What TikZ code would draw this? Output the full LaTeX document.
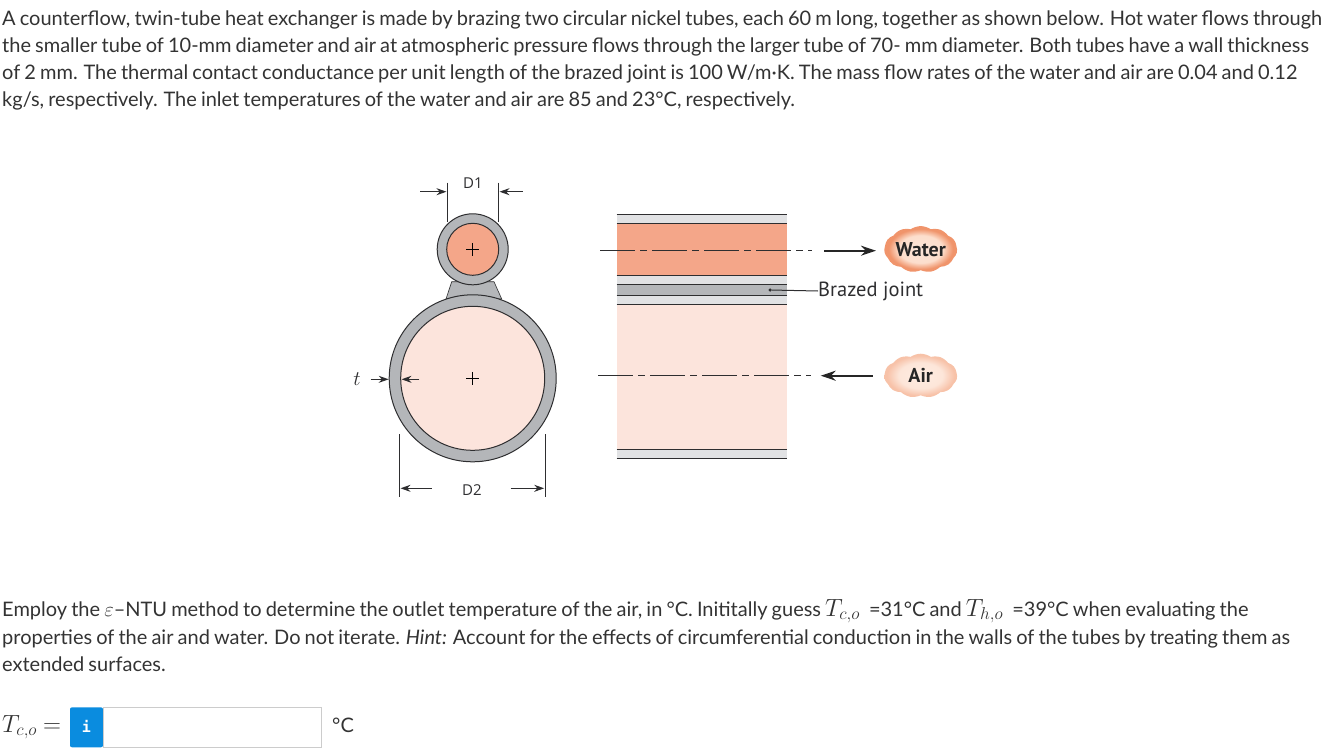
\documentclass[tikz,border=0pt]{standalone}
\usepackage{fontspec}
\setmainfont[WordSpace=0.8]{Lato}
\newfontfamily\labelfont{Open Sans}
\newfontfamily\calloutfont{PT Sans}
\newfontfamily\iconfont{DejaVu Sans Mono}
\usetikzlibrary{arrows.meta,shapes.symbols}
\definecolor{wallgray}{HTML}{B4B6B9}
\definecolor{walllight}{HTML}{E1E2E4}
\definecolor{waterfill}{HTML}{F4A689}
\definecolor{airfill}{HTML}{FCE4DC}
\definecolor{inkline}{HTML}{2E2E30}
\definecolor{infoblue}{HTML}{0A8CDF}
\definecolor{boxline}{HTML}{CCCCCC}
\newcommand{\mathbig}[1]{{\fontsize{24}{24}\selectfont$#1$}}
\pgfdeclareradialshading{waterglow}{\pgfpoint{0bp}{0bp}}{rgb(0bp)=(.99,.90,.85);rgb(15bp)=(.99,.87,.80);rgb(22bp)=(.94,.58,.42);rgb(50bp)=(.94,.58,.42)}
\pgfdeclareradialshading{airglow}{\pgfpoint{0bp}{0bp}}{rgb(0bp)=(1,.93,.89);rgb(15bp)=(.99,.90,.85);rgb(23bp)=(.97,.76,.66);rgb(50bp)=(.97,.76,.66)}
\tikzset{
  para/.style={anchor=base west,inner sep=0pt,text=black!80,font=\fontsize{20}{24}\selectfont},
  tube/.style={circle,draw=inkline,line width=1pt,inner sep=0pt,outer sep=0pt},
  dimline/.style={inkline,line width=1.1pt},
  dimarrow/.style={inkline,line width=1.1pt,-{Stealth[length=10pt,width=7pt]}},
  flowarrow/.style={black!85,line width=2pt,-{Stealth[length=15pt,width=10pt]}},
  centerline/.style={inkline,line width=0.9pt,dash pattern=on 35pt off 5pt on 7pt off 5pt},
  dimlabel/.style={inner sep=0pt,text=inkline,font=\labelfont\fontsize{15}{16}\selectfont},
  fluid/.style={cloud,cloud puffs=11,cloud puff arc=70,aspect=1.7,minimum width=73pt,minimum height=44pt,inner sep=0pt,outer sep=0pt,text=black!85,font=\calloutfont\bfseries\fontsize{20}{20}\selectfont},
}
\begin{document}
\begin{tikzpicture}[x=1pt,y=-1pt]
\useasboundingbox (0,0) rectangle (1336,755);
\node[para] (L1) at (2,25) {A counterflow, twin-tube heat exchanger is made by brazing two circular nickel tubes, each 60 m long, together as shown below. Hot water flows through};
\node[para] (L2) at (2,52) {the smaller tube of 10-mm diameter and air at atmospheric pressure flows through the larger tube of 70- mm diameter. Both tubes have a wall thickness};
\node[para] (L3) at (2,79) {of 2 mm. The thermal contact conductance per unit length of the brazed joint is 100 W/m·K. The mass flow rates of the water and air are 0.04 and 0.12};
\node[para] (L4) at (2,106) {kg/s, respectively. The inlet temperatures of the water and air are 85 and 23°C, respectively.};
\node[para] (L5) at (2,616) {Employ the $\varepsilon$–NTU method to determine the outlet temperature of the air, in °C. Inititally guess \mathbig{T_{c,o}}\hspace{5pt} =31°C and \mathbig{T_{h,o}}\hspace{5pt} =39°C when evaluating the};
\node[para] (L6) at (2,644) {properties of the air and water. Do not iterate. \emph{Hint:} Account for the effects of circumferential conduction in the walls of the tubes by treating them as};
\node[para] (L7) at (2,671) {extended surfaces.};

\fill[wallgray,draw=inkline,line width=0.6pt] (451.7,281.7) -- (446,299) -- (501.7,299) -- (494,281.7) -- cycle;
\node[tube,fill=wallgray,minimum size=71pt] (smallO) at (472.7,249.3) {};
\node[tube,fill=waterfill,minimum size=52pt] (smallI) at (472.7,249.3) {};
\node[tube,fill=wallgray,minimum size=167pt] (largeO) at (472.7,378.3) {};
\node[tube,fill=airfill,minimum size=144pt] (largeI) at (472.7,378.3) {};
\foreach \c in {smallI,largeI} {
  \draw[black,line width=0.8pt] (\c.center) +(-6.5,0) -- +(6.5,0) +(0,-6.5) -- +(0,6.5);
}

\foreach \n/\x/\y in {a1/447.3/182.7,a2/447.3/221.7,b1/498.7/182.7,b2/498.7/221.7,c1/399.7/434,c2/399.7/497.3,d1/545.4/434,d2/545.4/497.3} {
  \coordinate (\n) at (\x,\y);
}
\draw[dimline] (a1) -- (a2);
\draw[dimline] (b1) -- (b2);
\draw[dimline] (c1) -- (c2);
\draw[dimline] (d1) -- (d2);
\foreach \n/\x/\y/\u/\v in {e/420/191.7/446.5/191.7,f/522.7/191.7/499.5/191.7,g/431.7/488.3/400.5/488.3,h/510.7/488.3/544.2/488.3,i/370.7/379.3/388.7/379.3,j/419.3/379.3/401.5/379.3} {
  \coordinate (\n1) at (\x,\y);
  \coordinate (\n2) at (\u,\v);
  \draw[dimarrow] (\n1) -- (\n2);
}
\node[dimlabel] (D1) at (473,183.5) {D1};
\node[dimlabel] (D2) at (472,490) {D2};
\node[inner sep=0pt,text=inkline,font=\fontsize{20}{20}\selectfont] (T) at (357,379) {$t$};

\foreach \a/\b/\c in {214.7/223.3/walllight,223.3/275.7/waterfill,275.7/284.3/walllight,284.3/295.7/wallgray,295.7/304.3/walllight,304.3/449.3/airfill,449.3/458/walllight} {
  \fill[\c] (616.7,\a) rectangle (786.7,\b);
}
\foreach \y in {214.7,223.3,275.7,284.3,295.7,304.3,449.3,458} {
  \draw[inkline,line width=1pt] (616.7,\y) -- (786.7,\y);
}

\node[fluid,shading=waterglow] (W) at (920.7,249.3) {Water};
\node[fluid,shading=airglow] (A) at (920.7,375.7) {Air};
\foreach \n/\x/\y in {w1/600/250.7,w2/811.7/250.7,w3/824.3/250.7,w4/876/250.7,a3/598.3/375.7,a4/810.7/375.7,a5/872.7/375.7,a6/820.7/375.7} {
  \coordinate (\n) at (\x,\y);
}
\draw[centerline] (w1) -- (w2);
\draw[centerline] (a3) -- (a4);
\draw[flowarrow] (w3) -- (w4);
\draw[flowarrow] (a5) -- (a6);

\node[anchor=west,inner sep=0pt,text=inkline,font=\calloutfont\fontsize{20.5}{24}\selectfont] (BJ) at (818,291) {Brazed joint};
\node[circle,fill=inkline,inner sep=0pt,minimum size=3.5pt] (BD) at (770,290) {};
\draw[inkline,line width=1pt] (BD) -- (BJ.west);

\node[para] (TL) at (2,732) {\mathbig{T_{c,o}}};
\node[para] (EQ) at (43,732) {\mathbig{=}};
\node[fill=infoblue,rounded corners=2pt,inner sep=0pt,minimum width=33pt,minimum height=40pt] (IB) at (86.5,727.3) {};
\node[inner sep=0pt,text=white,font=\iconfont\bfseries\fontsize{15}{18}\selectfont] (IC) at (86.5,726.5) {i};
\node[draw=boxline,line width=0.9pt,inner sep=0pt,outer sep=0pt,minimum width=218.7pt,minimum height=40pt] (AB) at (212.5,727.3) {};
\node[para] (UN) at (332,732) {°C};
\end{tikzpicture}
\end{document}
